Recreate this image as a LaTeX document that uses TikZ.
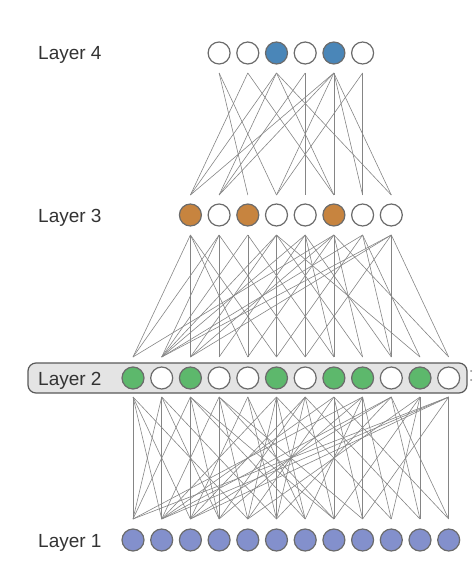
\documentclass[tikz,border=0pt]{standalone}
\usepackage{fontspec}
\setmainfont{Liberation Sans}
\definecolor{nblue}{HTML}{4A86B8}
\definecolor{norange}{HTML}{C7843F}
\definecolor{ngreen}{HTML}{5DB86C}
\definecolor{nlav}{HTML}{8390CC}
\definecolor{boxfill}{HTML}{E4E4E4}
\begin{document}
\begin{tikzpicture}[x=1pt,y=-1pt,
  unit/.style={circle, draw=black!58, line width=1.2pt, minimum size=22pt, inner sep=0pt, fill=white},
  edge/.style={draw=black!48, line width=0.6pt},
  lbl/.style={anchor=base west, inner sep=0pt, text=black!80, font=\fontsize{19}{22}\selectfont},
  layerbox/.style={draw=black!65, fill=boxfill, line width=1.2pt, rounded corners=8pt, minimum width=439pt, minimum height=30pt, inner sep=0pt}]
\useasboundingbox (0,0) rectangle (474,583);
% Layer 2 band
\node[layerbox] (band) at (247.5,378) {};
% labels
\node[lbl] (l4) at (38,60) {Layer 4};
\node[lbl] (l3) at (38,222) {Layer 3};
\node[lbl] (l2) at (38,385) {Layer 2};
\node[lbl] (l1) at (38,547) {Layer 1};
% layer 1
\foreach \i in {1,...,12}
  \node[unit, fill=nlav] (a\i) at ({133+28.7*(\i-1)},540) {};
% layer 2
\foreach \i/\c in {1/ngreen,2/white,3/ngreen,4/white,5/white,6/ngreen,7/white,8/ngreen,9/ngreen,10/white,11/ngreen,12/white}
  \node[unit, fill=\c] (b\i) at ({133+28.7*(\i-1)},378) {};
% layer 3
\foreach \i/\c in {1/norange,2/white,3/norange,4/white,5/white,6/norange,7/white,8/white}
  \node[unit, fill=\c] (c\i) at ({133+28.7*(\i+1)},215) {};
% layer 4
\foreach \i/\c in {1/white,2/white,3/nblue,4/white,5/nblue,6/white}
  \node[unit, fill=\c] (d\i) at ({133+28.7*(\i+2)},53) {};
% edges 4 -> 3
\foreach \s/\t in {1/3,1/4,2/1,2/6,3/1,3/2,3/6,3/8,4/5,4/2,5/1,5/2,5/4,5/6,5/7,5/8,6/4,6/7}
  \draw[edge] ([yshift=-20pt]d\s.center) -- ([yshift=20pt]c\t.center);
% edges 3 -> 2
\foreach \s/\t in {1/1,1/3,1/5,1/6,2/1,2/2,2/4,2/7,3/2,3/5,3/8,4/2,4/3,4/6,4/9,4/11,5/2,5/4,5/7,5/8,5/10,6/1,6/3,6/5,6/8,6/9,6/12,7/2,7/6,7/10,7/11,8/2,8/3,8/7,8/10,8/12}
  \draw[edge] ([yshift=-20pt]c\s.center) -- ([yshift=21pt]b\t.center);
% edges 2 -> 1
\foreach \s/\t in {1/1,1/2,1/3,1/5,2/1,2/2,2/4,2/6,3/1,3/3,3/4,3/7,3/8,4/2,4/4,4/5,4/8,4/9,5/3,5/6,5/7,6/2,6/5,6/6,6/7,6/10,7/3,7/4,7/6,7/8,7/11,8/2,8/5,8/8,8/9,8/12,9/1,9/4,9/7,9/9,9/10,10/2,10/3,10/6,10/11,10/12,11/5,11/8,11/10,11/11,12/1,12/2,12/3,12/9,12/12}
  \draw[edge] ([yshift=-19pt]b\s.center) -- ([yshift=21pt]a\t.center);
% small marks right of band
\fill[black!45] (471,371) circle (1pt) coordinate (m1);
\fill[black!45] (471,380) circle (1pt) coordinate (m2);
\end{tikzpicture}
\end{document}
